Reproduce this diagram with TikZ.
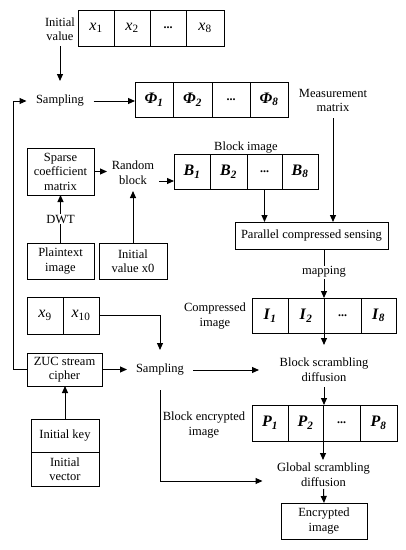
\documentclass[tikz,border=0pt]{standalone}
\usepackage{fontspec}
\setmainfont{Liberation Serif}
\usetikzlibrary{arrows.meta}
\newcommand{\bisub}[2]{{\fontsize{16}{18}\selectfont\textbf{\textit{#1}}\textsubscript{\textbf{\textit{#2}}}}}
\newcommand{\xsub}[1]{{\fontsize{16}{18}\selectfont\textit{x}\textsubscript{#1}}}
\newcommand{\dotsb}{{\fontsize{12}{14}\selectfont\textbf{...}}}
\begin{document}
\begin{tikzpicture}[x=1pt,y=-1pt,
  base/.style={font=\fontsize{12.5}{14.5}\selectfont, inner sep=0pt, outer sep=0pt, align=center},
  box/.style={base, draw, line width=1pt},
  cellbox/.style={box, minimum width=#1},
  arr/.style={line width=1pt, -{Triangle[length=7pt,width=6pt]}},
  ln/.style={line width=1pt},
  lbl/.style={base, fill=white, inner sep=1pt}]
\useasboundingbox (0,0) rectangle (406,550);

% top row x1..x8
\begin{scope}[every node/.append style={minimum height=36pt}]
\node[cellbox=36pt] (x1) at (96,28) {\xsub{1}};
\node[cellbox=36pt] (x2) at (132,28) {\xsub{2}};
\node[cellbox=36pt] (x3) at (168,28) {\dotsb};
\node[cellbox=38pt] (x8) at (205,28) {\xsub{8}};
\end{scope}
\node[base, minimum height=34pt] (iv) at (60,29) {Initial\\value};

% sampling 1
\node[base, minimum width=67pt, minimum height=40pt] (samp1) at (60,101) {Sampling};

% Phi row
\begin{scope}[every node/.append style={minimum height=35pt}]
\node[cellbox=38pt] (f1) at (154,99.5) {\bisub{Φ}{1}};
\node[cellbox=39pt] (f2) at (192.5,99.5) {\bisub{Φ}{2}};
\node[cellbox=38pt] (f3) at (231,99.5) {\dotsb};
\node[cellbox=38pt] (f8) at (269,99.5) {\bisub{Φ}{8}};
\end{scope}
\node[base, minimum height=35pt] (meas) at (333,100.5) {Measurement\\matrix};

% block image row
\node[base] (blk) at (246,148) {Block image};
\begin{scope}[every node/.append style={minimum height=35pt}]
\node[cellbox=36pt] (b1) at (192,171.5) {\bisub{B}{1}};
\node[cellbox=37pt] (b2) at (228.5,171.5) {\bisub{B}{2}};
\node[cellbox=35pt] (b3) at (264.5,171.5) {\dotsb};
\node[cellbox=36pt] (b8) at (300,171.5) {\bisub{B}{8}};
\end{scope}

% left part
\node[box, minimum width=67pt, minimum height=47pt] (sparse) at (60.5,171.5) {Sparse\\coefficient\\matrix};
\node[base, minimum width=52pt, minimum height=37pt] (rand) at (133,172.5) {Random\\block};
\node[box, minimum width=67pt, minimum height=36pt] (plain) at (60.5,261) {Plaintext\\image};
\node[box, minimum width=68pt, minimum height=36pt] (x0) at (133,261) {Initial\\value x0};

% parallel compressed sensing
\node[box, minimum width=153pt, minimum height=27pt] (pcs) at (311.5,235.5) {Parallel compressed sensing};

% compressed image row
\node[base] (comp) at (215,316) {Compressed\\image};
\begin{scope}[every node/.append style={minimum height=35pt}]
\node[cellbox=36pt] (i1) at (270,315.5) {\bisub{I}{1}};
\node[cellbox=36pt] (i2) at (306,315.5) {\bisub{I}{2}};
\node[cellbox=37pt] (i3) at (342.5,315.5) {\dotsb};
\node[cellbox=35pt] (i8) at (378.5,315.5) {\bisub{I}{8}};
\end{scope}

% x9 x10
\begin{scope}[every node/.append style={minimum height=37pt}]
\node[cellbox=36pt] (x9) at (45,315.5) {\xsub{9}};
\node[cellbox=36pt] (x10) at (81,315.5) {\xsub{10}};
\end{scope}

% ZUC and keys
\node[box, minimum width=75pt, minimum height=33pt] (zuc) at (64.5,369.5) {ZUC stream\\cipher};
\node[box, minimum width=68pt, minimum height=33pt] (key) at (65,435.5) {Initial key};
\node[box, minimum width=68pt, minimum height=34pt] (vec) at (65,469) {Initial\\vector};

% sampling 2
\node[base, minimum width=66pt, minimum height=40pt] (samp2) at (160,370) {Sampling};

% block scrambling
\node[base, minimum width=130pt, minimum height=35pt] (bsd) at (324,369.5) {Block scrambling\\diffusion};

% block encrypted row
\node[base] (bei) at (204,425) {Block encrypted\\image};
\begin{scope}[every node/.append style={minimum height=36pt}]
\node[cellbox=36pt] (p1) at (270,423) {\bisub{P}{1}};
\node[cellbox=35pt] (p2) at (305.5,423) {\bisub{P}{2}};
\node[cellbox=37pt] (p3) at (341.5,423) {\dotsb};
\node[cellbox=37pt] (p8) at (378.5,423) {\bisub{P}{8}};
\end{scope}

% global scrambling
\node[base, minimum width=122pt, minimum height=29pt] (gsd) at (323.5,474.5) {Global scrambling\\diffusion};
\node[box, minimum width=86pt, minimum height=36pt] (enc) at (324,521) {Encrypted\\image};

% connectors
\draw[arr] (iv.south) -- (samp1.north);
\draw[arr] (samp1.east) -- (samp1.east -| f1.west);
\draw[arr] (zuc.west) -- ++(-14,0) |- (samp1.west);
\draw[arr] (sparse.east) -- (sparse.east -| rand.west);
\draw[arr] ([yshift=-8.5pt]rand.east) -- ([yshift=-8.5pt]rand.east -| b1.west);
\draw[arr] (plain.north) -- (sparse.south) node[lbl, midway] {DWT};
\draw[arr] (x0.north) -- (rand.south);
\draw[arr] (meas.south) -- (meas.south |- pcs.north);
\draw[arr] (b3.south) -- (b3.south |- pcs.north);
\draw[arr] (pcs.south -| i2.north east) -- (i2.north east) node[lbl, pos=0.47] {mapping};
\draw[arr] (i2.south east) -- ([yshift=7pt]bsd.north);
\draw[arr] (x10.east) -| (samp2.north);
\draw[arr] (zuc.east) -- (zuc.east -| samp2.west);
\draw[arr] (key.north) -- (key.north |- zuc.south);
\draw[arr] (samp2.east) -- (samp2.east -| bsd.west);
\draw[arr] (bsd.south) -- (bsd.south |- p2.north);
\draw[arr] (p2.south east) -- (p2.south east |- gsd.north);
\draw[arr] (samp2.south) |- ([yshift=-6.5pt]gsd.west);
\draw[arr] (gsd.south) -- (enc.north);
\end{tikzpicture}
\end{document}
